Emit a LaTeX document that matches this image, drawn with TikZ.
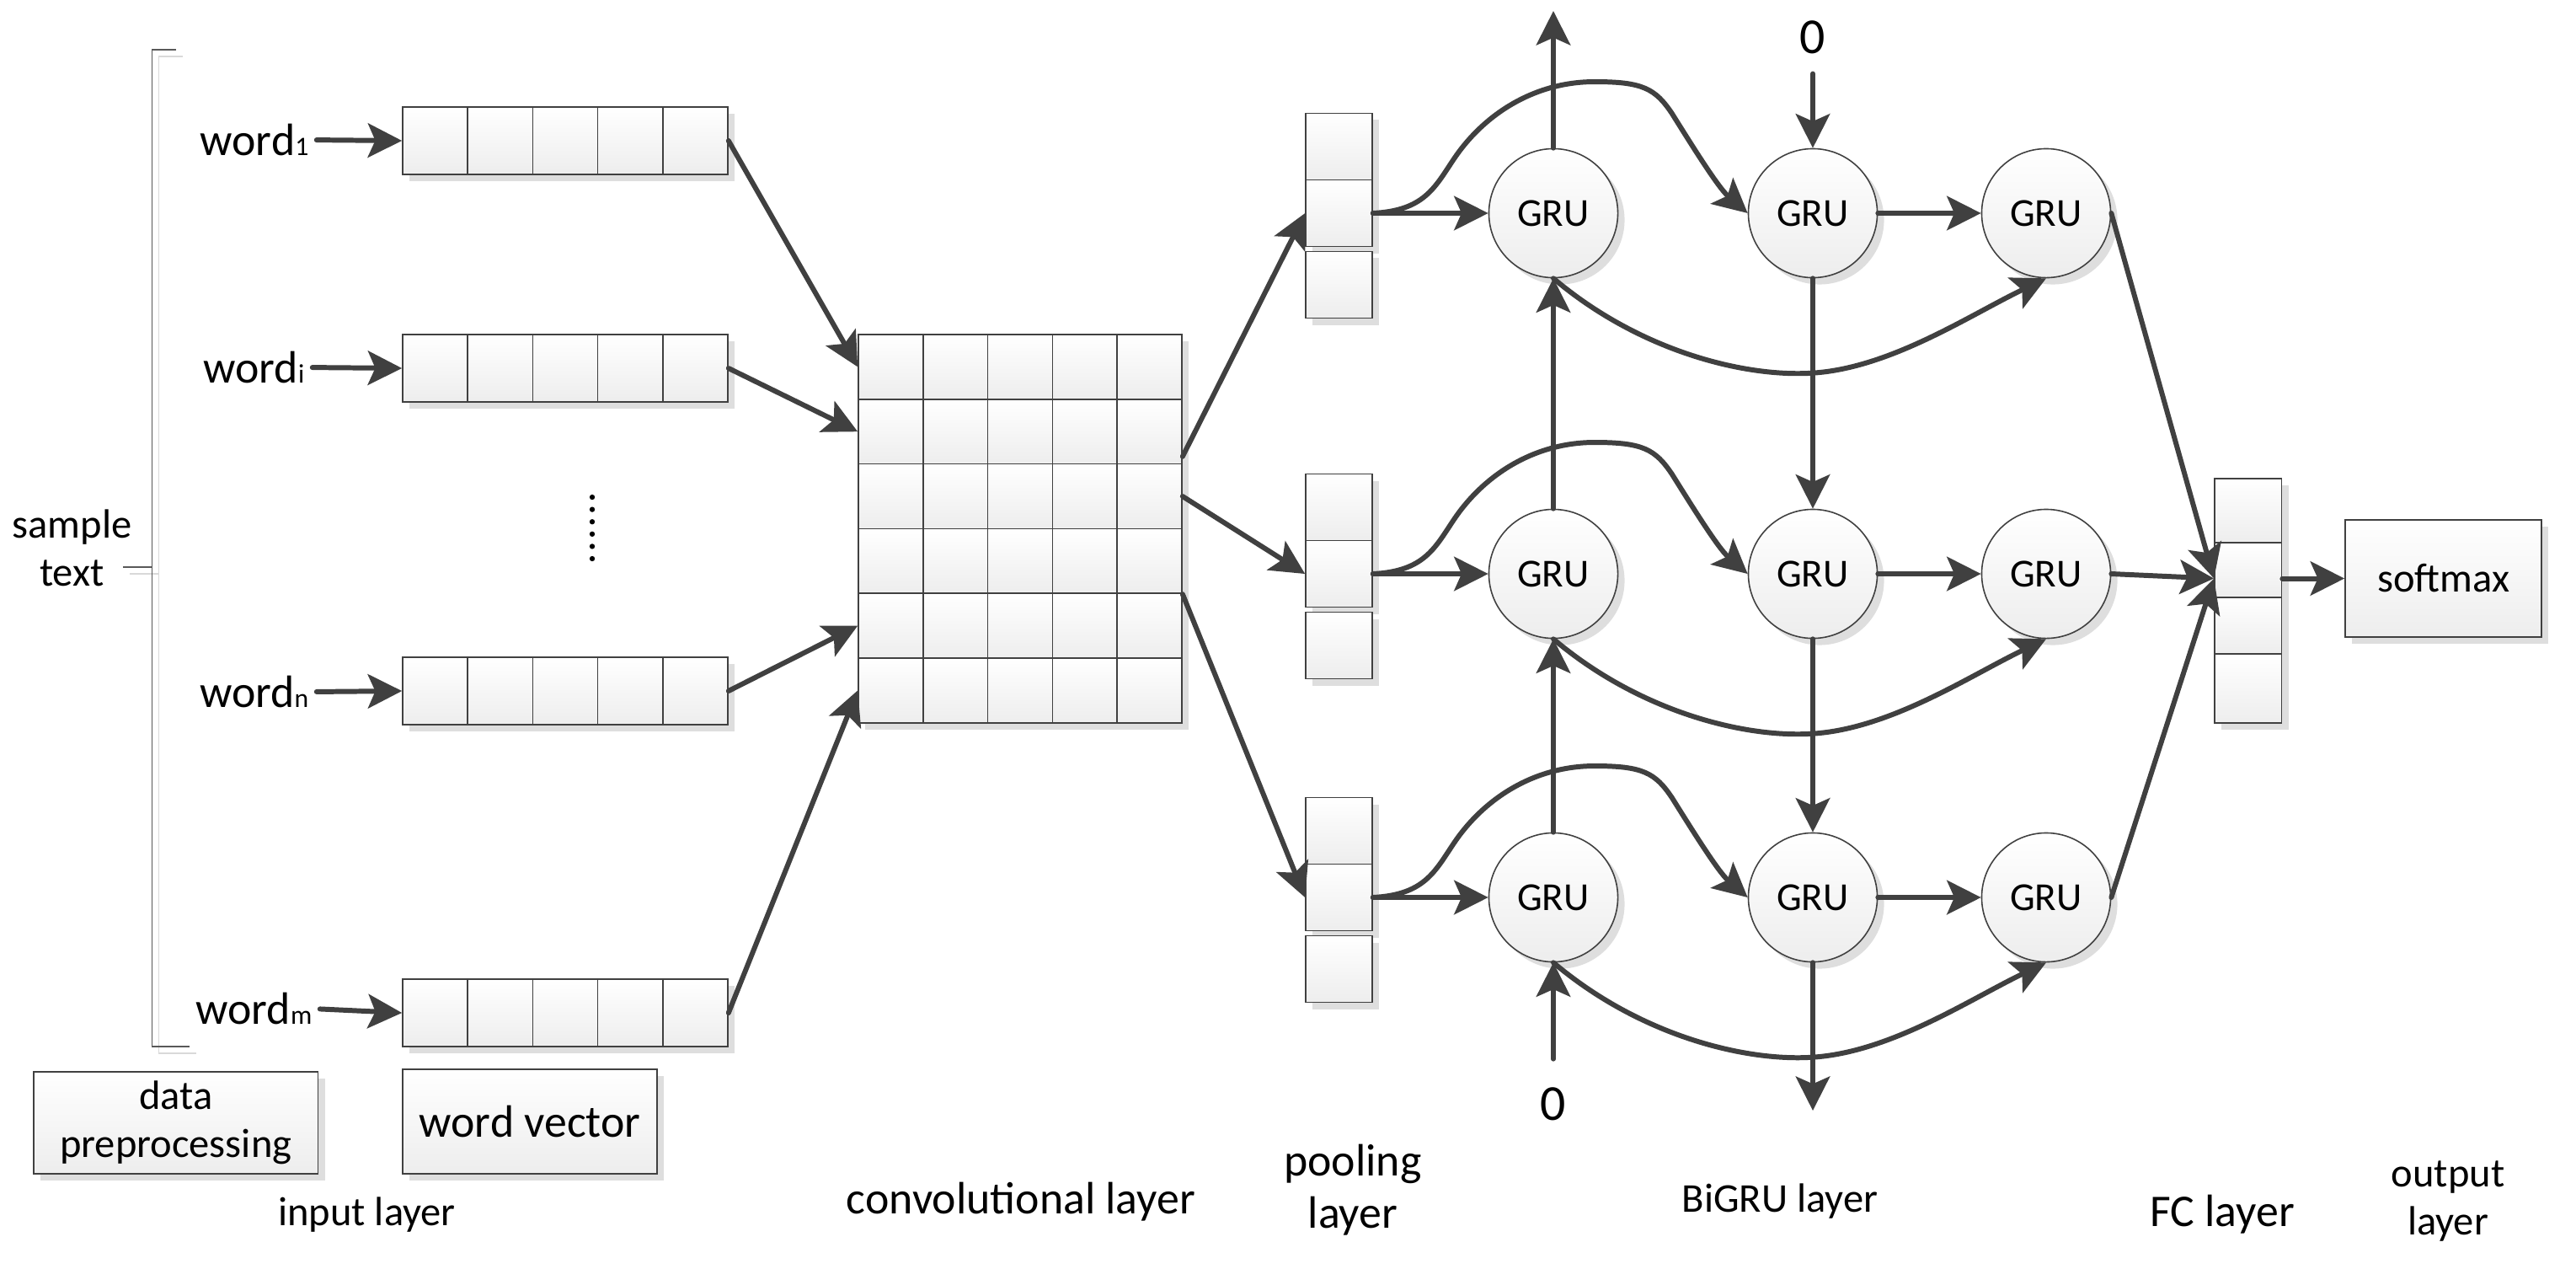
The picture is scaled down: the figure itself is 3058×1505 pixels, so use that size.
\documentclass[tikz,border=0pt]{standalone}
\usepackage{fontspec}
\setmainfont{Carlito}
\usetikzlibrary{arrows.meta,shadows,calc}
\definecolor{dgray}{HTML}{404040}
\newcommand\wsub[1]{{\fontsize{9pt}{9pt}\selectfont #1}}
\begin{document}
\begin{tikzpicture}[x=0.01cm,y=-0.01cm,
  shadowed/.style={drop shadow={shadow xshift=0.08cm,shadow yshift=-0.08cm,fill=black!13,opacity=1}},
  cellbox/.style={draw=dgray,line width=0.45pt,top color=white,bottom color=black!7,inner sep=0pt,shadowed},
  wcell/.style={cellbox,minimum width=0.772cm,minimum height=0.80cm},
  ccell/.style={cellbox,minimum width=0.768cm,minimum height=0.768cm},
  pcell/.style={cellbox,minimum width=0.79cm,minimum height=0.79cm},
  grunode/.style={circle,cellbox,minimum size=1.53cm,font=\fontsize{13.4pt}{15pt}\selectfont},
  arr/.style={draw=dgray,line width=1.7pt,line cap=round,-{Stealth[length=11.5pt,width=11.5pt,inset=2.5pt]}},
  bigtxt/.style={font=\fontsize{15.3pt}{17.5pt}\selectfont,inner sep=0pt,align=center},
  smtxt/.style={font=\fontsize{13.8pt}{16.2pt}\selectfont,inner sep=0pt,align=center},
  zerotxt/.style={font=\fontsize{17pt}{19pt}\selectfont,inner sep=0pt},
  brk/.style={draw=black!65,line width=0.45pt},
  brkshadow/.style={draw=black!15,line width=0.45pt}
]
\useasboundingbox (0,0) rectangle (3058,1505);

% bracket of the sample text
\draw[brkshadow] (217,67) -- (188.5,67) -- (188.5,1250) -- (233,1250);
\draw[brkshadow] (154,681) -- (188.5,681);
\draw[brk] (209,58.7) -- (180.5,58.7) -- (180.5,1242) -- (225,1242);
\draw[brk] (146,673) -- (180.5,673);
\node[smtxt] (sample) at (85.5,650) {sample\\text};

% word vectors
\foreach \i/\yy in {1/167,2/437,3/820,4/1202} {
  \foreach \k in {1,...,5}
    \node[wcell] (w\i-\k) at ({516.6+77.2*(\k-1)},\yy) {};
}
\node[bigtxt,anchor=east] (wl1) at (367,166) {word\wsub{1}};
\node[bigtxt,anchor=east] (wl2) at (362,436) {word\wsub{i}};
\node[bigtxt,anchor=east] (wl3) at (367,821) {word\wsub{n}};
\node[bigtxt,anchor=east] (wl4) at (371,1197) {word\wsub{m}};

% vertical dots
\foreach \j in {0,...,5} \fill (703,{590+14.6*\j}) circle (0.9pt);

% convolutional grid
\foreach \r in {1,...,6} {
  \foreach \k in {1,...,5}
    \node[ccell] (conv-\r-\k) at ({1057.4+76.8*(\k-1)},{435.4+76.8*(\r-1)}) {};
}

% pooling cells
\foreach \r/\yy in {1/253,2/681,3/1065} {
  \node[pcell] (pool\r-t) at (1589.5,{\yy-79}) {};
  \node[pcell] (pool\r-m) at (1589.5,\yy) {};
  \node[pcell] (pool\r-b) at (1589.5,{\yy+85}) {};
}

% GRU units
\foreach \r/\yy in {1/253,2/681,3/1065} {
  \foreach \k/\xx in {1/1844,2/2152,3/2429}
    \node[grunode] (gru-\r-\k) at (\xx,\yy) {GRU};
}

% FC layer
\node[cellbox,minimum width=0.795cm,minimum height=0.76cm] (fc1) at (2668.75,606) {};
\node[cellbox,minimum width=0.795cm,minimum height=0.65cm] (fc2) at (2668.75,676.5) {};
\node[cellbox,minimum width=0.795cm,minimum height=0.67cm] (fc3) at (2668.75,742.5) {};
\node[cellbox,minimum width=0.795cm,minimum height=0.82cm] (fc4) at (2668.75,817) {};

% softmax
\node[cellbox,smtxt,minimum width=2.33cm,minimum height=1.39cm] (soft) at (2900.5,686.5) {softmax};

% boxes of the input layer
\node[cellbox,smtxt,minimum width=3.375cm,minimum height=1.21cm] (dp) at (208.75,1332.5) {data\\preprocessing};
\node[cellbox,bigtxt,minimum width=3.02cm,minimum height=1.24cm] (wv) at (629,1331) {word vector};

% layer labels
\node[smtxt] (lin) at (435.5,1442) {input layer};
\node[bigtxt] (lconv) at (1212,1426) {convolutional layer};
\node[bigtxt] (lpool) at (1606,1412) {pooling\\layer};
\node[smtxt] (lbigru) at (2113,1426) {BiGRU layer};
\node[bigtxt] (lfc) at (2638,1441) {FC layer};
\node[smtxt] (lout) at (2906,1426) {output\\layer};

% zeros
\node[zerotxt] (z1) at (2152,44) {0};
\node[zerotxt] (z2) at (1844,1310) {0};
\coordinate (topout) at (1844,13);
\coordinate (botout) at (2152,1318);

% word label -> word vector
\foreach \i in {1,...,4} \draw[arr,shorten <=2.5pt] (wl\i.east) -- (w\i-1.west);

% word vectors -> convolution
\draw[arr] (w1-5.east) -- (conv-1-1.west);
\draw[arr] (w2-5.east) -- (conv-2-1.west);
\draw[arr] (w3-5.east) -- (conv-5-1.west);
\draw[arr] (w4-5.east) -- (conv-6-1.west);

% convolution -> pooling
\draw[arr] ($(conv-3-5.north east)+(0,-8)$) -- (pool1-m.west);
\draw[arr] (conv-3-5.east) -- (pool2-m.west);
\draw[arr] (conv-4-5.south east) -- (pool3-m.west);

% pooling -> GRU
\foreach \r/\yy in {1/253,2/681,3/1065} {
  \draw[arr] (pool\r-m.east) -- (gru-\r-1.west);
  \draw[arr] (pool\r-m.east) .. controls (1690,{\yy-3}) and (1703,{\yy-30}) .. (1725,{\yy-63})
     .. controls (1760,{\yy-116}) and (1820,{\yy-156}) .. (1893,{\yy-156})
     .. controls (1950,{\yy-156}) and (1965,{\yy-148}) .. (1985,{\yy-118})
     .. controls (2010,{\yy-78}) and (2040,{\yy-30}) .. (gru-\r-2.west);
  \draw[arr] (gru-\r-1.south) .. controls (1950,{\yy+167}) and (2080,{\yy+197}) .. (2160,{\yy+189})
     .. controls (2250,{\yy+180}) and (2340,{\yy+120}) .. (gru-\r-3.south);
  \draw[arr] (gru-\r-2.east) -- (gru-\r-3.west);
}

% vertical GRU links
\draw[arr] (gru-1-1.north) -- (topout);
\draw[arr] (gru-2-1.north) -- (gru-1-1.south);
\draw[arr] (gru-3-1.north) -- (gru-2-1.south);
\draw[arr,shorten <=9.4pt] (z2.north) -- (gru-3-1.south);
\draw[arr,shorten <=6.6pt] (z1.south) -- (gru-1-2.north);
\draw[arr] (gru-1-2.south) -- (gru-2-2.north);
\draw[arr] (gru-2-2.south) -- (gru-3-2.north);
\draw[arr] (gru-3-2.south) -- (botout);

% GRU -> FC -> softmax
\coordinate (fcin) at ($(fc2.west)+(0,10)$);
\foreach \r in {1,2,3} \draw[arr] (gru-\r-3.east) -- (fcin);
\draw[arr] (soft.west -| fc2.east) -- (soft.west);
\end{tikzpicture}
\end{document}
